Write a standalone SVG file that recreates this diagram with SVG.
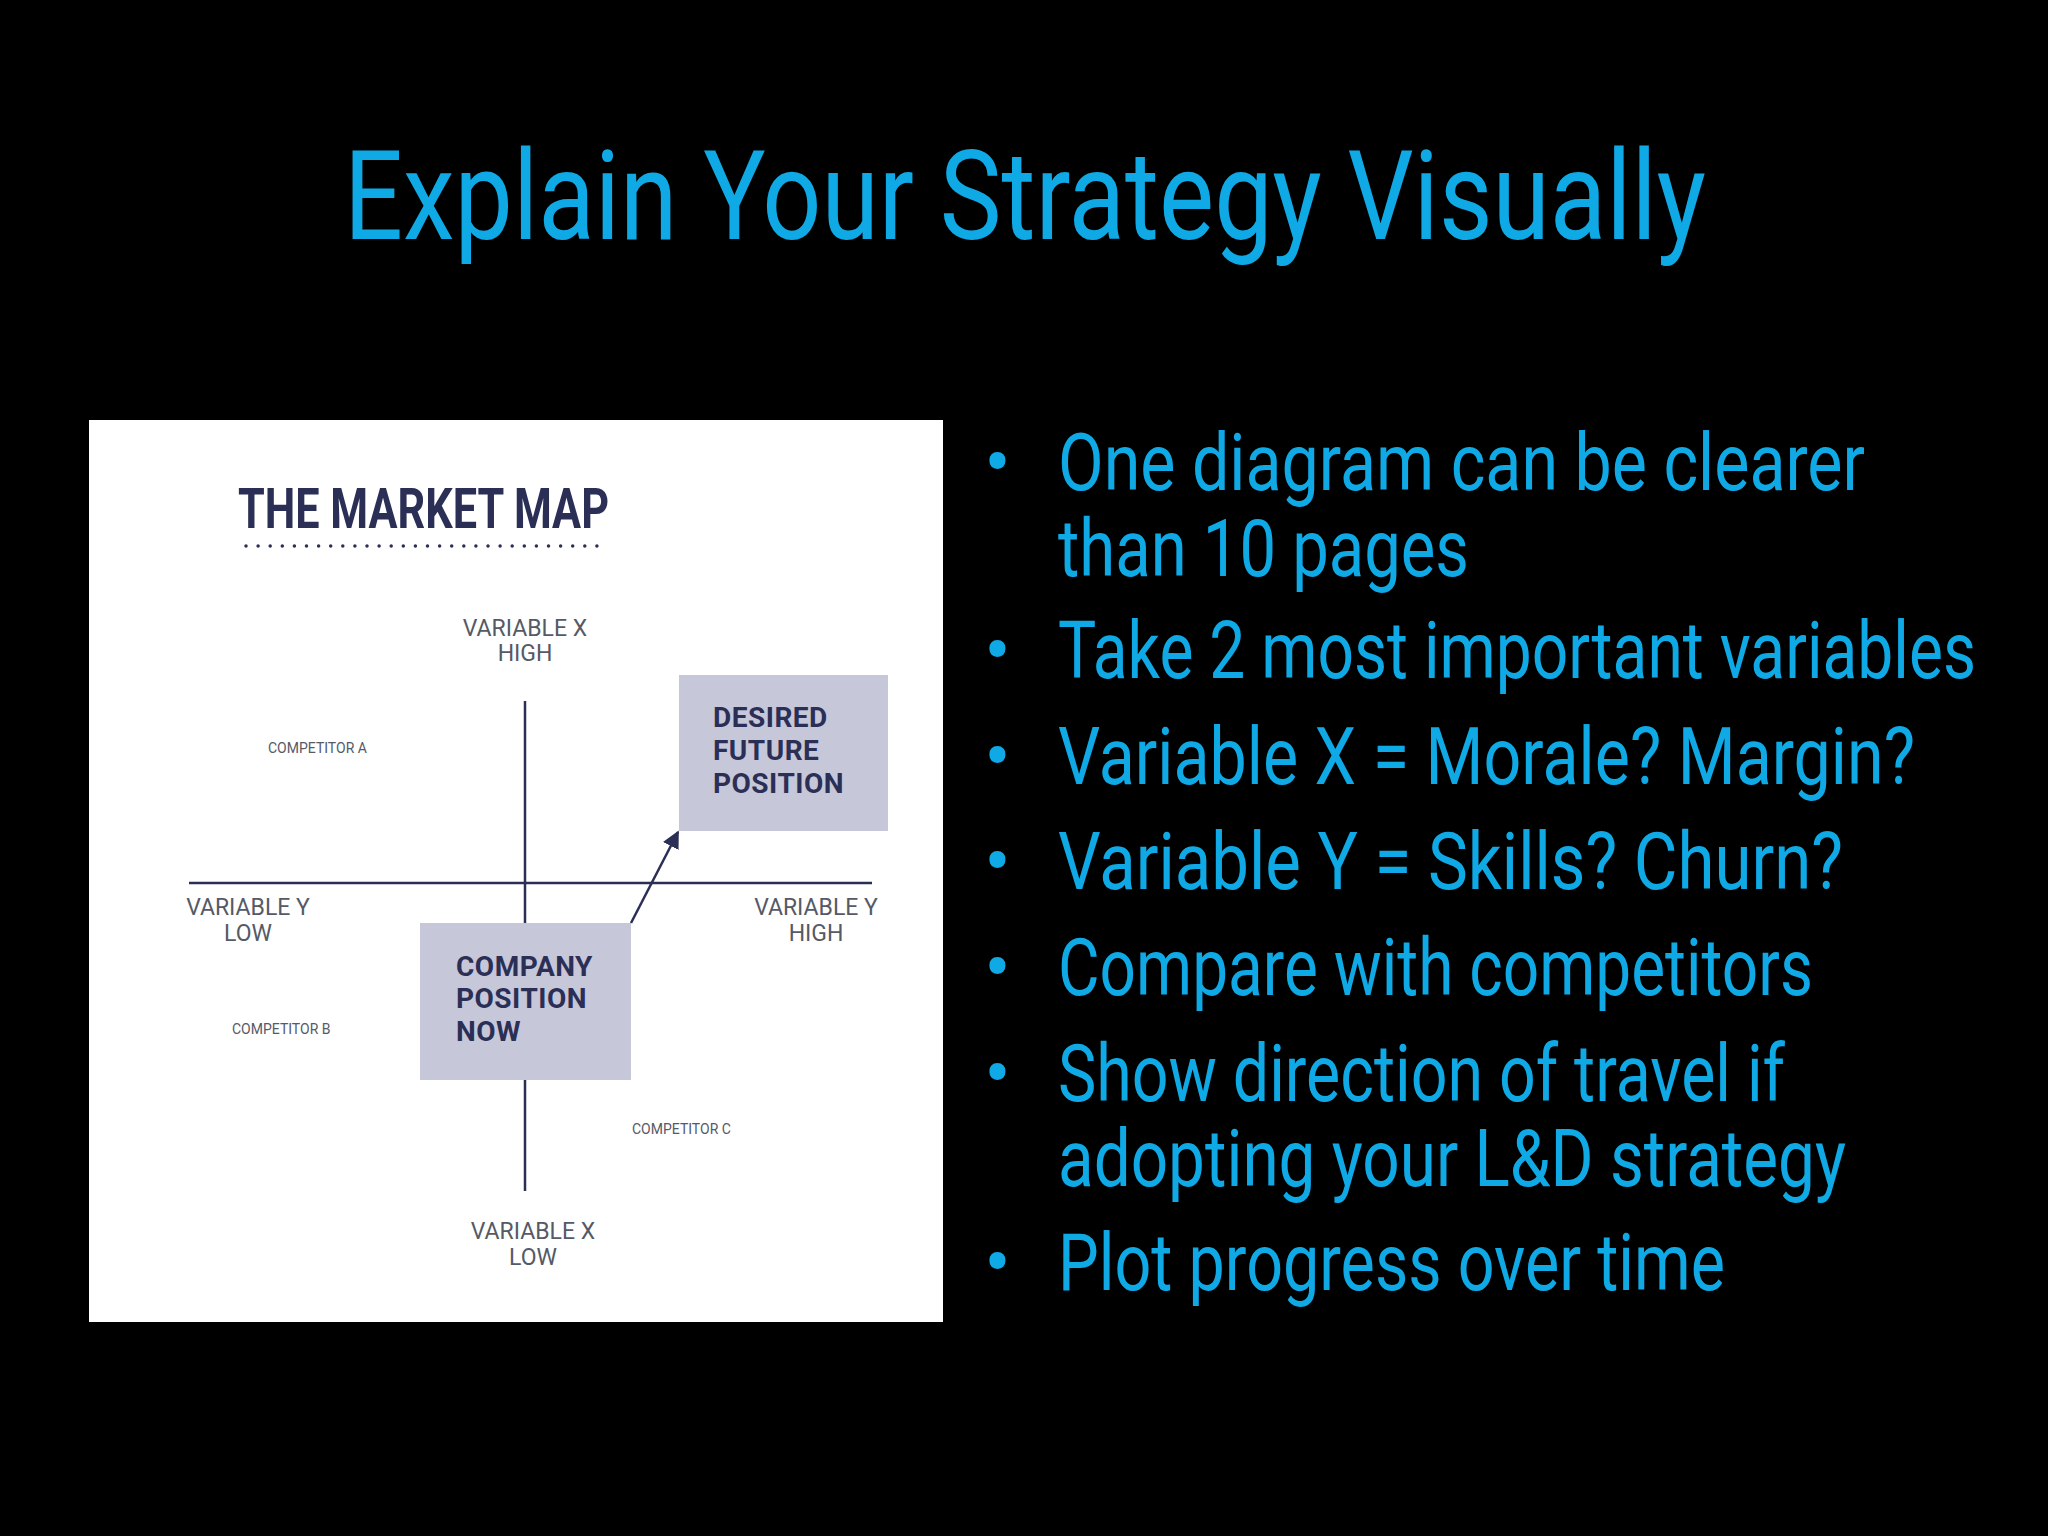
<svg xmlns="http://www.w3.org/2000/svg" width="2048" height="1536" viewBox="0 0 2048 1536">
<style>
.t{font-family:Roboto,"Liberation Sans",sans-serif;fill:#0fa9e6}
.b{font-family:Roboto,"Liberation Sans",sans-serif;fill:#0fa9e6;font-size:80px}
.ax{font-family:Roboto,"Liberation Sans",sans-serif;fill:#555a66;font-size:23px;text-anchor:middle}
.cp{font-family:Roboto,"Liberation Sans",sans-serif;fill:#555a66;font-size:14px}
.bx{font-family:Roboto,"Liberation Sans",sans-serif;fill:#2b2f55;font-size:28px;font-weight:bold;letter-spacing:0.5px}
.ln{stroke:#2b2f55;stroke-width:2.5;fill:none}
</style>
<defs><marker id="ah" viewBox="0 0 10 10" refX="9" refY="5" markerWidth="7" markerHeight="7" orient="auto"><path d="M0,0L10,5L0,10z" fill="#2b2f55"/></marker></defs>
<rect width="2048" height="1536" fill="#000"/>
<text class="t" x="1025" y="239" font-size="124" text-anchor="middle" textLength="1362" lengthAdjust="spacingAndGlyphs">Explain Your Strategy Visually</text>
<rect x="89" y="420" width="854" height="902" fill="#fff"/>
<text x="238" y="528" font-family="Roboto,'Liberation Sans',sans-serif" font-weight="bold" font-size="56" fill="#2b2f55" textLength="371" lengthAdjust="spacingAndGlyphs">THE MARKET MAP</text>
<line x1="246" y1="546" x2="609" y2="546" stroke="#2b2f55" stroke-width="3.5" stroke-dasharray="0,12.1" stroke-linecap="round"/>
<g id="connectors">
<line class="ln" x1="525" y1="701" x2="525" y2="1191"/>
<line class="ln" x1="189" y1="883" x2="872" y2="883"/>
<line class="ln" x1="631" y1="923" x2="678" y2="832" marker-end="url(#ah)"/>
</g>
<g id="company"><rect x="420" y="923" width="211" height="157" fill="#c6c7d9"/>
<text class="bx" x="456" y="976">COMPANY</text><text class="bx" x="456" y="1008">POSITION</text><text class="bx" x="456" y="1041">NOW</text></g>
<g id="desired"><rect x="679" y="675" width="209" height="156" fill="#c6c7d9"/>
<text class="bx" x="713" y="727">DESIRED</text><text class="bx" x="713" y="760">FUTURE</text><text class="bx" x="713" y="793">POSITION</text></g>
<g id="labels">
<text class="ax" x="525" y="636">VARIABLE X</text><text class="ax" x="525" y="661">HIGH</text>
<text class="ax" x="248" y="915">VARIABLE Y</text><text class="ax" x="248" y="941">LOW</text>
<text class="ax" x="816" y="915">VARIABLE Y</text><text class="ax" x="816" y="941">HIGH</text>
<text class="ax" x="533" y="1239">VARIABLE X</text><text class="ax" x="533" y="1265">LOW</text>
<text class="cp" x="268" y="753">COMPETITOR A</text>
<text class="cp" x="232" y="1034">COMPETITOR B</text>
<text class="cp" x="632" y="1134">COMPETITOR C</text>
</g>
<g id="bullets">
<g class="b">
<text x="984" y="490">•</text><text x="984" y="678">•</text><text x="984" y="784">•</text><text x="984" y="889">•</text><text x="984" y="995">•</text><text x="984" y="1101">•</text><text x="984" y="1290">•</text>
</g>
<text class="b" x="1058" y="490" textLength="807" lengthAdjust="spacingAndGlyphs">One diagram can be clearer</text>
<text class="b" x="1058" y="576" textLength="411" lengthAdjust="spacingAndGlyphs">than 10 pages</text>
<text class="b" x="1058" y="678" textLength="918" lengthAdjust="spacingAndGlyphs">Take 2 most important variables</text>
<text class="b" x="1058" y="784" textLength="857" lengthAdjust="spacingAndGlyphs">Variable X = Morale? Margin?</text>
<text class="b" x="1058" y="889" textLength="785" lengthAdjust="spacingAndGlyphs">Variable Y = Skills? Churn?</text>
<text class="b" x="1058" y="995" textLength="755" lengthAdjust="spacingAndGlyphs">Compare with competitors</text>
<text class="b" x="1058" y="1101" textLength="727" lengthAdjust="spacingAndGlyphs">Show direction of travel if</text>
<text class="b" x="1058" y="1186" textLength="788" lengthAdjust="spacingAndGlyphs">adopting your L&amp;D strategy</text>
<text class="b" x="1058" y="1290" textLength="667" lengthAdjust="spacingAndGlyphs">Plot progress over time</text>
</g>
</svg>
